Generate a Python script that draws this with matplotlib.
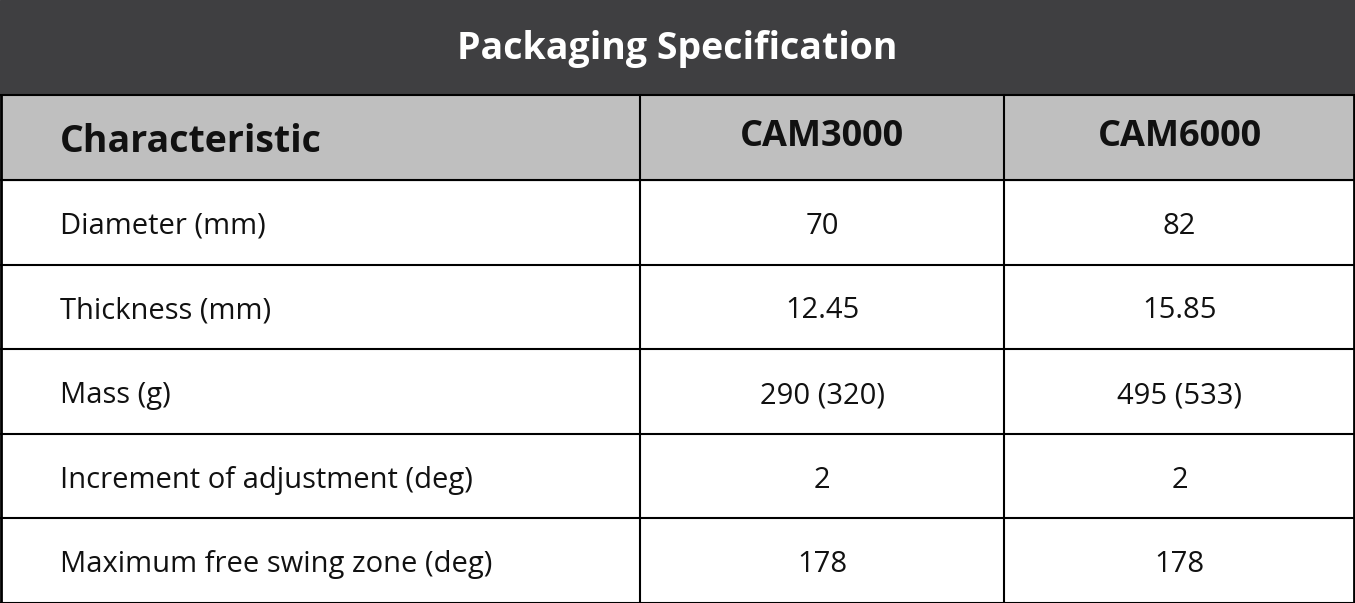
import matplotlib.pyplot as plt

title = "Packaging Specification"
columns = ["Characteristic", "CAM3000", "CAM6000"]
rows = ["Diameter (mm)", "Thickness (mm)", "Mass (g)",
        "Increment of adjustment (deg)", "Maximum free swing zone (deg)"]
cam3000 = ["70", "12.45", "290 (320)", "2", "178"]
cam6000 = ["82", "15.85", "495 (533)", "2", "178"]

plt.rcParams['font.family'] = ['Open Sans', 'DejaVu Sans']

W, H = 1355, 603
fig = plt.figure(figsize=(W / 100, H / 100), dpi=100)
ax = fig.add_axes([0, 0, 1, 1])
ax.set_xlim(0, W)
ax.set_ylim(H, 0)
ax.axis('off')

col_x = [0, 640, 1004, W]
title_h = 95
head_h = 85
row_h = (H - title_h - head_h) / len(rows)

ax.add_patch(plt.Rectangle((0, 0), W, title_h, color='#3f3f41'))
ax.text(W / 2, title_h / 2 + 2, title, color='white', fontsize=27,
        fontweight='bold', ha='center', va='center')

ax.add_patch(plt.Rectangle((0, title_h), W, head_h, color='#bfbfbf'))
hy = title_h + head_h / 2
ax.text(60, hy + 4, columns[0], fontsize=27, fontweight='bold', ha='left', va='center', color='#111111')
for i in (1, 2):
    ax.text((col_x[i] + col_x[i + 1]) / 2, hy, columns[i], fontsize=26,
            fontweight='bold', ha='center', va='center', color='#111111')

for r, (name, a, b) in enumerate(zip(rows, cam3000, cam6000)):
    y = title_h + head_h + (r + 0.5) * row_h + 4
    ax.text(60, y, name, fontsize=21, ha='left', va='center', color='#111111')
    ax.text((col_x[1] + col_x[2]) / 2, y, a, fontsize=21, ha='center', va='center', color='#111111')
    ax.text((col_x[2] + col_x[3]) / 2, y, b, fontsize=21, ha='center', va='center', color='#111111')

# grid lines
for r in range(len(rows) + 1):
    y = title_h + head_h + r * row_h
    ax.plot([0, W], [y, y], color='black', lw=1.5)
ax.plot([0, W], [title_h, title_h], color='black', lw=1.5)
for x in col_x[1:3]:
    ax.plot([x, x], [title_h, H], color='black', lw=1.5)
ax.plot([1, 1], [title_h, H], color='black', lw=2)
ax.plot([W - 1, W - 1], [title_h, H], color='black', lw=2)

fig.savefig('out.png', dpi=100)
